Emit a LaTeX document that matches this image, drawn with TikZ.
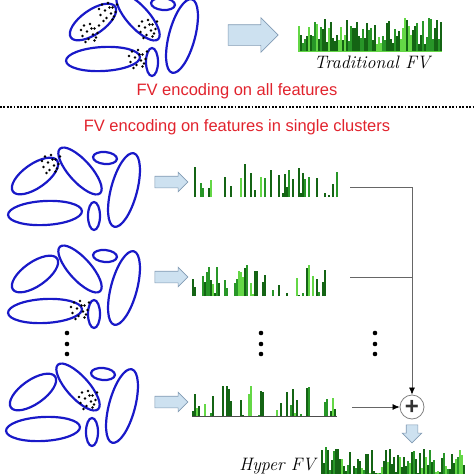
\documentclass[tikz,border=0pt]{standalone}
\usepackage{fontspec}
\setsansfont{Liberation Sans}
\usetikzlibrary{positioning,shapes.arrows,arrows.meta}

\definecolor{clusterblue}{RGB}{25,25,200}
\definecolor{fvred}{RGB}{225,35,45}
\definecolor{fvdark}{RGB}{20,100,20}
\definecolor{fvmid}{RGB}{40,150,40}
\definecolor{fvlight}{RGB}{100,215,70}
\definecolor{arrowfill}{RGB}{205,225,240}
\definecolor{arrowedge}{RGB}{130,155,180}

\tikzset{
  clusterline/.style={clusterblue, line width=2.2pt},
  fvbar/.style={line width=1.5pt},
  fvarrow/.style={single arrow, draw=arrowedge, fill=arrowfill, line width=0.6pt, inner xsep=0pt},
  fvtitle/.style={fvred, font=\sffamily\fontsize{16.5}{19}\selectfont},
  fvlabel/.style={font=\itshape\fontsize{18}{20}\selectfont},
  joinline/.style={gray!80!black, line width=0.7pt},
  jointip/.style={-{Latex[length=7pt,width=6pt,color=black]}},
  sumnode/.style={circle, draw=gray, line width=0.8pt, minimum size=24pt, inner sep=0pt,
    font=\sffamily\bfseries\fontsize{24}{24}\selectfont, text=black!80}
}

\pgfmathdeclarerandomlist{fvcols}{{fvdark}{fvdark}{fvmid}{fvlight}}

% six clusters, placed as the second row
\newcommand{\clusterset}[2]{%
  \begin{scope}[shift={(#1,#2)}]
    \draw[clusterline, rotate around={35:(35,176)}] (35,176) ellipse [x radius=27pt, y radius=12pt];
    \draw[clusterline, rotate around={-48:(80,171)}] (80,171) ellipse [x radius=30pt, y radius=11pt];
    \draw[clusterline, rotate around={-5:(105,158)}] (105,158) ellipse [x radius=12pt, y radius=6pt];
    \draw[clusterline, rotate around={75:(124,190)}] (124,190) ellipse [x radius=38pt, y radius=13pt];
    \draw[clusterline, rotate around={3:(45,213)}] (45,213) ellipse [x radius=37pt, y radius=12pt];
    \draw[clusterline] (94,216) ellipse [x radius=6pt, y radius=14pt];
  \end{scope}}

% features falling in a cluster
\newcommand{\featdots}[2]{%
  \foreach \dx/\dy in {-4/-5,0/-6,3/-3,-2/-1,2/1,5/0,-5/2,-1/4,3/5,6/-5,-6/-2,1/-3,4/3,-3/6}
    \fill (#1+1.5*\dx,#2+1.5*\dy) circle (1.4pt);}

% histogram: seed, x0, baseline, bars, height, threshold
\newcommand{\fvhist}[6]{%
  \pgfmathsetseed{#1}%
  \foreach \i in {0,...,#4}{%
    \pgfmathsetmacro{\barh}{#5*max(0,rnd-(#6))/(1-(#6))}%
    \pgfmathrandomitem{\barcol}{fvcols}%
    \draw[fvbar, color=\barcol] (#2+2*\i,#3) -- ++(0,-\barh);
  }}

\begin{document}
\begin{tikzpicture}[x=1pt, y=-1pt]
    \useasboundingbox (0,0) rectangle (474,474);

    % Encoding on all features
    \clusterset{58}{-154}
    \featdots{108}{12}
    \featdots{90}{33}
    \featdots{148}{29}
    \featdots{138}{59}
    \node[fvarrow, inner ysep=10pt, minimum height=50pt, minimum width=34pt, single arrow head extend=7pt] (toparrow) at (248,35) {};
    \draw[fvlight, line width=0.8pt] (298,51) -- (442,51);
    \fvhist{11}{299}{51}{71}{34}{-0.25}
    \coordinate (trad) at (372,52);
    \node[fvlabel, below=0pt of trad] (tradlabel) {Traditional FV};
    \node[fvtitle] (allfeat) at (237,91) {FV encoding on all features};

    % Separator
    \draw[line width=1.8pt, dash pattern=on 1.8pt off 1.6pt] (0,107) -- (474,107);

    % Encoding on features in single clusters
    \node[fvtitle] (singlefeat) at (237,127) {FV encoding on features in single clusters};
    \clusterset{0}{0}
    \featdots{51}{164}
    \clusterset{0}{98}
    \featdots{80}{310}
    \clusterset{-2}{216}
    \featdots{88}{400}

    \foreach \y/\name in {182/arrowa,277/arrowb,402/arrowc}
        \node[fvarrow, inner ysep=5.5pt, minimum height=33pt, minimum width=19pt, single arrow head extend=4pt] (\name) at (168.5,\y) {};

    \fvhist{23}{193}{197}{72}{35}{0.6}
    \fvhist{37}{193}{296}{66}{33}{0.5}
    \draw[gray!60!black, line width=0.6pt] (192,416) -- (337,416);
    \fvhist{41}{193}{416}{72}{32}{0.45}

    % Vertical dots
    \foreach \x in {67,261,375}
        \foreach \y in {333,344,354}
            \fill (\x,\y) circle (2.3pt);

    % Sum of the cluster FVs
    \coordinate (rowa) at (350,187);
    \coordinate (rowb) at (350,277);
    \coordinate (rowc) at (352,407);
    \node[sumnode] (sum) at (412,407) {+};
    \draw[joinline, jointip] (rowa) -| (sum);
    \draw[joinline] (rowb) -- (rowb -| sum);
    \draw[joinline, jointip] (rowc) -- (sum);
    \node[fvarrow, rotate=-90, inner ysep=5.5pt, minimum height=18pt, minimum width=19pt, single arrow head extend=4pt] (downarrow) at (412,431) {};

    % Hyper FV
    \fvhist{53}{322}{478}{71}{31}{-0.15}
    \coordinate (hyper) at (320,466);
    \node[fvlabel, left=1pt of hyper] (hyperlabel) {Hyper FV};
\end{tikzpicture}
\end{document}
